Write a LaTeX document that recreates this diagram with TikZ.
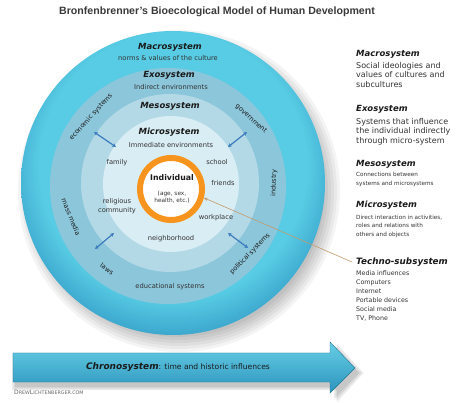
\documentclass[tikz,border=0pt]{standalone}
\usepackage{fontspec}
\setmainfont{DejaVu Sans}
\newfontfamily\titlefont{Liberation Sans}
\usetikzlibrary{arrows.meta}
\definecolor{macA}{HTML}{58CCE4}
\definecolor{macM}{HTML}{3BA6CD}
\definecolor{macB}{HTML}{2A86B0}
\definecolor{exoC}{HTML}{8CC6DA}
\definecolor{mesoC}{HTML}{B3D9E6}
\definecolor{microC}{HTML}{D9EDF4}
\definecolor{orangeC}{HTML}{F7941D}
\definecolor{arrowB}{HTML}{3A7BBE}
\definecolor{tanC}{HTML}{C49A6C}
\definecolor{txtD}{HTML}{1A1A1A}
\definecolor{txtM}{HTML}{333333}
\definecolor{titleC}{HTML}{3A3A3A}
\definecolor{chrA}{HTML}{68CFE6}
\definecolor{chrB}{HTML}{2B93BC}
\definecolor{wmC}{HTML}{666666}
\pgfdeclareradialshading{macroshade}{\pgfpoint{0bp}{5bp}}{color(0bp)=(macA); color(22bp)=(macA); color(27.5bp)=(macM); color(35bp)=(macB); color(50bp)=(macB)}
\tikzset{
  ring/.style={circle, inner sep=0pt, draw=none},
  ringtitle/.style={font=\bfseries\itshape\fontsize{8.5}{10}\selectfont, text=txtD, inner sep=0pt},
  ringdesc/.style={font=\fontsize{6.7}{8}\selectfont, text=txtM, inner sep=0pt},
  inlbl/.style={font=\fontsize{6.7}{8.8}\selectfont, text=txtM, inner sep=0pt, align=center},
  arclbl/.style={font=\fontsize{6.5}{8}\selectfont, text=txtD, inner sep=0pt},
  rtitle/.style={font=\bfseries\itshape\fontsize{8.5}{10}\selectfont, text=txtD, anchor=west, inner sep=0pt, text height=0.7em, text depth=0.2em},
  rdesc/.style={font=\fontsize{8}{9.5}\selectfont, text=txtM, anchor=west, inner sep=0pt, text height=0.7em, text depth=0.2em},
  rsmall/.style={font=\fontsize{5.7}{7}\selectfont, text=txtM, anchor=west, inner sep=0pt, text height=0.7em, text depth=0.2em},
  rlist/.style={font=\fontsize{6.3}{7}\selectfont, text=txtM, anchor=west, inner sep=0pt, text height=0.7em, text depth=0.2em},
  dblarrow/.style={{Stealth[length=3.8pt,width=3.8pt]}-{Stealth[length=3.8pt,width=3.8pt]}, line width=1.2pt, draw=arrowB},
  shadowlayer/.style={fill=black, fill opacity=0.045, draw=none},
}
\begin{document}
\begin{tikzpicture}[x=1pt,y=-1pt]
\useasboundingbox[fill=white] (0,0) rectangle (474,403);
% title
\node[font=\titlefont\bfseries\fontsize{10.6}{12}\selectfont, text=titleC] (title) at (217,12) {Bronfenbrenner’s Bioecological Model of Human Development};
% soft shadow of the big circle
\foreach \r in {146,149,152,155,158,161}
  \fill[shadowlayer] (179,191) circle[radius=\r];
% soft shadow of the chrono arrow
\foreach \d in {0,1.5,3}
  \fill[shadowlayer, fill opacity=0.08] (15-\d,357-\d) -- (334+\d,357-\d) -- (334+\d,347-\d) -- (359+1.5*\d,373) -- (334+\d,399+\d) -- (334+\d,387+\d) -- (15-\d,387+\d) -- cycle;
% rings
\node[ring, minimum size=304pt, shading=macroshade, shade] (macro) at (173,183) {};
\node[ring, minimum size=236pt, fill=exoC] (exo) at (168,186) {};
\node[ring, minimum size=178pt, fill=mesoC] (meso) at (170,183) {};
\node[ring, minimum size=136pt, fill=microC] (micro) at (171,184) {};
\node[ring, minimum size=62pt, fill=white, draw=orangeC, line width=6pt] (indiv) at (171,189) {};
% ring labels
\node[ringtitle] (macT) at (170,47) {Macrosystem};
\node[ringdesc] (macD) at (168,58) {norms \& values of the culture};
\node[ringtitle] (exoT) at (169,75) {Exosystem};
\node[ringdesc] (exoD) at (171,87) {Indirect environments};
\node[ringtitle] (mesoT) at (170,106) {Mesosystem};
\node[ringtitle] (micT) at (169,132) {Microsystem};
\node[ringdesc] (micD) at (171,145) {Immediate environments};
% micro contents
\node[inlbl] (family) at (117,163) {family};
\node[inlbl] (school) at (217,162) {school};
\node[inlbl] (friends) at (223,183) {friends};
\node[inlbl] (relig) at (117,206) {religious\\community};
\node[inlbl] (work) at (216,218) {workplace};
\node[inlbl] (neigh) at (171,239) {neighborhood};
\node[inlbl] (edu) at (170,287) {educational systems};
% individual
\node[font=\bfseries\fontsize{7.8}{9}\selectfont, text=txtD, inner sep=0pt] (indT) at (172,178) {Individual};
\node[font=\fontsize{5.8}{7}\selectfont, text=txtM, inner sep=0pt, align=center] (indD) at (172,197) {(age, sex,\\health, etc.)};
% arc labels
\node[arclbl, rotate=48] (econ) at (91,117) {economic systems};
\node[arclbl, rotate=-42] (gov) at (251,119) {government};
\node[arclbl, rotate=88] (ind) at (274,183) {industry};
\node[arclbl, rotate=-68] (mass) at (71,217) {mass media};
\node[arclbl, rotate=-35] (laws) at (107,269) {laws};
\node[arclbl, rotate=46] (pol) at (250,254) {political systems};
% double arrows
\coordinate (a1s) at (94,132); \coordinate (a1e) at (116,147);
\coordinate (a2s) at (228,147); \coordinate (a2e) at (247,132);
\coordinate (a3s) at (95,249); \coordinate (a3e) at (114,233);
\coordinate (a4s) at (228,233); \coordinate (a4e) at (248,248);
\draw[dblarrow] (a1s) -- (a1e);
\draw[dblarrow] (a2s) -- (a2e);
\draw[dblarrow] (a3s) -- (a3e);
\draw[dblarrow] (a4s) -- (a4e);
% right column
\node[rtitle] (rMac) at (356,54) {Macrosystem};
\foreach \t [count=\i] in {Social ideologies and, values of cultures and, subcultures}
  \node[rdesc, name=rMac\i] at (356,{66+9.5*(\i-1)}) {\t};
\node[rtitle] (rExo) at (356,109) {Exosystem};
\foreach \t [count=\i] in {Systems that influence, the individual indirectly, through micro-system}
  \node[rdesc, name=rExo\i] at (356,{122+9.5*(\i-1)}) {\t};
\node[rtitle] (rMeso) at (356,164) {Mesosystem};
\foreach \t [count=\i] in {Connections between, systems and microsystems}
  \node[rsmall, name=rMeso\i] at (356,{174+9*(\i-1)}) {\t};
\node[rtitle] (rMic) at (356,205) {Microsystem};
\foreach \t [count=\i] in {{Direct interaction in activities,}, roles and relations with, others and objects}
  \node[rsmall, name=rMic\i] at (356,{217+8.5*(\i-1)}) {\t};
\node[rtitle, font=\bfseries\itshape\fontsize{8.8}{10}\selectfont] (techno) at (356,262) {Techno-subsystem};
\foreach \t [count=\i] in {Media influences, Computers, Internet, Portable devices, Social media, {TV, Phone}}
  \node[rlist, name=rTec\i] at (356,{273+9*(\i-1)}) {\t};
% techno connector
\draw[tanC, line width=0.6pt, -{Stealth[length=4pt,width=3.5pt]}] ([xshift=-4pt]techno.west) -- (indiv.-15);
% chronosystem arrow
\path[top color=chrA, bottom color=chrB, draw=chrB!80!black, line width=0.4pt]
  (13,353) -- (330,353) -- (330,342) -- (355,368) -- (330,393) -- (330,382) -- (13,382) -- cycle;
\node[inner sep=0pt, text=txtD] (chrono) at (178,367) {{\bfseries\itshape\fontsize{9}{10}\selectfont Chronosystem}{\fontsize{7.6}{9}\selectfont: time and historic influences}};
\node[anchor=west, inner sep=0pt, text=wmC] (wm) at (14,392) {\fontsize{6}{7}\selectfont D{\fontsize{4.8}{6}\selectfont REW}L{\fontsize{4.8}{6}\selectfont ICHTENBERGER.COM}};
\end{tikzpicture}
\end{document}
